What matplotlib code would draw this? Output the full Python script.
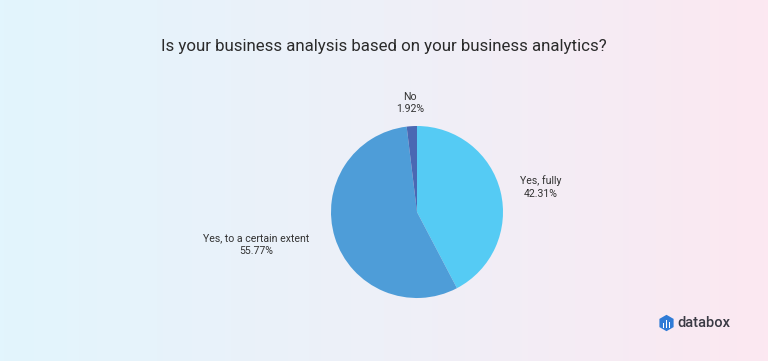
import numpy as np
import matplotlib.pyplot as plt
from matplotlib.colors import LinearSegmentedColormap
from matplotlib.patches import RegularPolygon, Rectangle

plt.rcParams['font.family'] = ['Roboto', 'DejaVu Sans']

title = "Is your business analysis based on your business analytics?"
labels = ["Yes, fully", "Yes, to a certain extent", "No"]
values = [42.31, 55.77, 1.92]
colors = ["#55CBF4", "#4E9DD8", "#4A68B3"]

W, H = 768, 361
fig = plt.figure(figsize=(W / 100, H / 100), dpi=100)

# background gradient
bg = fig.add_axes([0, 0, 1, 1], zorder=0)
cmap = LinearSegmentedColormap.from_list("bg", ["#E2F5FD", "#EEF0F8", "#FCE8F1"])
bg.imshow(np.linspace(0, 1, 256)[None, :], aspect="auto", cmap=cmap,
          extent=[0, 1, 0, 1])
bg.set_axis_off()

ax = fig.add_axes([0, 0, 1, 1], zorder=1)
ax.set_xlim(0, W)
ax.set_ylim(0, H)
ax.set_aspect("equal")
ax.set_axis_off()
ax.patch.set_alpha(0)

cx, cy, r = 417, H - 212, 86
wedges, _ = ax.pie(values, colors=colors, startangle=90, counterclock=False,
                   center=(cx, cy), radius=r, frame=True,
                   wedgeprops=dict(linewidth=0))
ax.set_xlim(0, W)
ax.set_ylim(0, H)
ax.set_axis_off()

# label anchors (pixels from top-left)
label_xy = [(541, 187), (256, 245), (410, 103)]
for lab, v, (lx, ly) in zip(labels, values, label_xy):
    ax.text(lx, H - ly, f"{lab}\n{v:.2f}%", ha="center", va="center",
            fontsize=7.6, color="#333333", linespacing=1.35)

ax.text(384, H - 46, title, ha="center", va="center", fontsize=12.15,
        color="#2b2b2b")

# databox logo
ax.add_patch(RegularPolygon((666.5, H - 323), 6, radius=8.2,
                            facecolor="#2F7BD6", edgecolor="none"))
for bx, bh in [(662.5, 5), (665.5, 8), (668.5, 6)]:
    ax.add_patch(Rectangle((bx, H - 327.5), 1.8, bh, facecolor="white",
                           edgecolor="none"))
ax.text(677, H - 323, "databox", ha="left", va="center", fontsize=10.5,
        color="#3a3a44", fontweight="medium")

fig.savefig("out.png", dpi=100)
